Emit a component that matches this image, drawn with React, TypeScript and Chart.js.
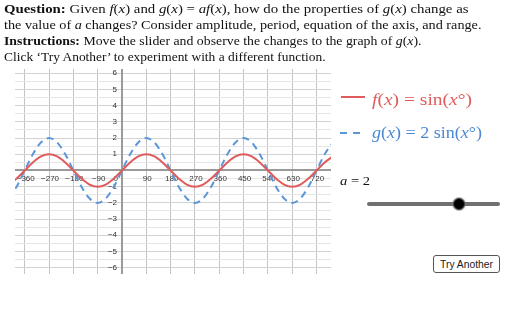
import React, { useEffect, useRef } from "react";
import { Chart, registerables } from "chart.js";

Chart.register(...registerables);

// ---- data ----
const X_TICKS = [-360, -270, -180, -90, 0, 90, 180, 270, 360, 450, 540, 630, 720];
const Y_TICKS = [6, 5, 4, 3, 2, 1, -1, -2, -3, -4, -5, -6];
const Y_GRID = [-6, -5.5, -5, -4.5, -4, -3.5, -3, -2.5, -2, -1.5, -1, -0.5, 0, 0.5, 1, 1.5, 2, 2.5, 3, 3.5, 4, 4.5, 5, 5.5, 6];
const X_SAMPLES = [
  -420, -390, -360, -330, -300, -270, -240, -210, -180, -150, -120, -90, -60, -30,
  0, 30, 60, 90, 120, 150, 180, 210, 240, 270, 300, 330, 360, 390, 420, 450, 480,
  510, 540, 570, 600, 630, 660, 690, 720, 750, 780,
];
const F_VALUES = [
  -0.87, -0.5, 0, 0.5, 0.87, 1, 0.87, 0.5, 0, -0.5, -0.87, -1, -0.87, -0.5,
  0, 0.5, 0.87, 1, 0.87, 0.5, 0, -0.5, -0.87, -1, -0.87, -0.5, 0, 0.5, 0.87, 1, 0.87,
  0.5, 0, -0.5, -0.87, -1, -0.87, -0.5, 0, 0.5, 0.87,
];
const G_VALUES = [
  -1.73, -1, 0, 1, 1.73, 2, 1.73, 1, 0, -1, -1.73, -2, -1.73, -1,
  0, 1, 1.73, 2, 1.73, 1, 0, -1, -1.73, -2, -1.73, -1, 0, 1, 1.73, 2, 1.73,
  1, 0, -1, -1.73, -2, -1.73, -1, 0, 1, 1.73,
];
const A_VALUE = 2;

const RED = "#e05c5c";
const BLUE = "#5b97d8";
const AXIS_COLOR = "#9a9a9a";

const fmt = (v: number) => (v < 0 ? "\u2212" + Math.abs(v) : String(v));

function Fit(props: { w: number; style: React.CSSProperties; children: React.ReactNode }) {
  return (
    <div
      data-fit={props.w}
      style={{ position: "absolute", whiteSpace: "nowrap", transformOrigin: "0 0", ...props.style }}
    >
      {props.children}
    </div>
  );
}

export default function App() {
  const canvasRef = useRef<HTMLCanvasElement>(null);
  const rootRef = useRef<HTMLDivElement>(null);

  useEffect(() => {
    document.body.style.margin = "0";
    const fit = () => {
      const root = rootRef.current;
      if (!root) return;
      root.querySelectorAll<HTMLElement>("[data-fit]").forEach((el) => {
        el.style.transform = "none";
        const w = el.getBoundingClientRect().width;
        const target = parseFloat(el.dataset.fit || "0");
        if (w > 0 && target > 0) el.style.transform = `scaleX(${target / w})`;
      });
    };
    fit();
    if ((document as any).fonts?.ready) (document as any).fonts.ready.then(fit);

    const overlay = {
      id: "ggbOverlay",
      beforeDatasetsDraw(chart: any) {
        const { ctx, chartArea: a } = chart;
        const x = chart.scales.x;
        const y = chart.scales.y;
        const ox = Math.round(x.getPixelForValue(0));
        const oy = Math.round(y.getPixelForValue(0));
        ctx.save();
        ctx.strokeStyle = AXIS_COLOR;
        ctx.lineWidth = 2;
        ctx.beginPath();
        ctx.moveTo(a.left, oy);
        ctx.lineTo(a.right, oy);
        ctx.moveTo(ox, a.top);
        ctx.lineTo(ox, a.bottom);
        ctx.stroke();
        ctx.fillStyle = "#333";
        ctx.font = '8px "Liberation Sans", Arial, sans-serif';
        ctx.textBaseline = "middle";
        ctx.textAlign = "center";
        X_TICKS.forEach((v) => {
          if (v === 0) return;
          ctx.fillText(fmt(v), x.getPixelForValue(v) + 1, oy + 9);
        });
        ctx.textAlign = "right";
        ctx.fillText("0", ox - 4, oy + 9);
        Y_TICKS.forEach((v) => ctx.fillText(fmt(v), ox - 5, y.getPixelForValue(v)));
        ctx.restore();
      },
      afterDraw(chart: any) {
        const { ctx } = chart;
        ctx.save();
        ctx.lineWidth = 2;
        ctx.strokeStyle = RED;
        ctx.beginPath();
        ctx.moveTo(341, 97);
        ctx.lineTo(365, 97);
        ctx.stroke();
        ctx.strokeStyle = BLUE;
        ctx.setLineDash([7, 6]);
        ctx.beginPath();
        ctx.moveTo(340, 133);
        ctx.lineTo(362, 133);
        ctx.stroke();
        ctx.restore();
      },
    };

    const chart = new Chart(canvasRef.current!, {
      type: "line",
      data: {
        datasets: [
          {
            label: "f(x) = sin(x°)",
            data: X_SAMPLES.map((xv, i) => ({ x: xv, y: F_VALUES[i] })),
            borderColor: RED,
            borderWidth: 2,
            pointRadius: 0,
            cubicInterpolationMode: "monotone",
            clip: 0,
          },
          {
            label: "g(x) = 2 sin(x°)",
            data: X_SAMPLES.map((xv, i) => ({ x: xv, y: G_VALUES[i] })),
            borderColor: BLUE,
            borderWidth: 2,
            borderDash: [7, 5],
            pointRadius: 0,
            cubicInterpolationMode: "monotone",
            clip: 0,
          },
        ],
      },
      options: {
        animation: false,
        responsive: false,
        events: [],
        layout: { padding: { left: 15, top: 69, right: 181, bottom: 39 } },
        plugins: { legend: { display: false }, tooltip: { enabled: false } },
        scales: {
          x: {
            type: "linear",
            min: -396,
            max: 773.5,
            afterBuildTicks: (s: any) => {
              s.ticks = X_TICKS.map((v) => ({ value: v }));
            },
            ticks: { display: false },
            border: { display: false },
            grid: {
              drawTicks: false,
              color: (c: any) => (c.tick && c.tick.value === 0 ? "rgba(0,0,0,0)" : "#c4c4c4"),
            },
          },
          y: {
            type: "linear",
            min: -6.39,
            max: 6.265,
            afterBuildTicks: (s: any) => {
              s.ticks = Y_GRID.map((v) => ({ value: v }));
            },
            ticks: { display: false },
            border: { display: false },
            grid: {
              drawTicks: false,
              color: (c: any) => {
                const v = c.tick ? c.tick.value : 1;
                if (v === 0) return "rgba(0,0,0,0)";
                return Math.abs(v % 1) < 1e-9 ? "#d2d2d2" : "#e6e6e6";
              },
            },
          },
        },
      },
      plugins: [overlay],
    } as any);

    return () => chart.destroy();
  }, []);

  const serif = '"Liberation Serif", "Times New Roman", serif';

  return (
    <div
      ref={rootRef}
      style={{
        position: "fixed",
        left: 0,
        top: 0,
        width: 512,
        height: 313,
        background: "#fff",
        overflow: "hidden",
        fontFamily: serif,
        color: "#111",
      }}
    >
      <canvas ref={canvasRef} width={512} height={313} style={{ position: "absolute", left: 0, top: 0, width: 512, height: 313 }} />

      <Fit w={464.5} style={{ left: 3.5, top: 1.7, fontSize: 13, lineHeight: "13px" }}>
        <b>Question:</b> Given <i>f</i>(<i>x</i>) and <i>g</i>(<i>x</i>) = <i>af</i>(<i>x</i>), how do the properties of <i>g</i>(<i>x</i>) change as
      </Fit>
      <Fit w={477.5} style={{ left: 3.5, top: 17.8, fontSize: 13, lineHeight: "13px" }}>
        the value of <i>a</i> changes? Consider amplitude, period, equation of the axis, and range.
      </Fit>
      <Fit w={417.5} style={{ left: 3.5, top: 33.9, fontSize: 13, lineHeight: "13px" }}>
        <b>Instructions:</b> Move the slider and observe the changes to the graph of <i>g</i>(<i>x</i>).
      </Fit>
      <Fit w={321.5} style={{ left: 3.5, top: 50, fontSize: 13, lineHeight: "13px" }}>
        Click ‘Try Another’ to experiment with a different function.
      </Fit>

      <Fit w={100} style={{ left: 372, top: 90.8, fontSize: 17, lineHeight: "17px", color: RED }}>
        <i>f</i>(<i>x</i>) = sin(<i>x</i>°)
      </Fit>
      <Fit w={110} style={{ left: 372, top: 123.6, fontSize: 17, lineHeight: "17px", color: "#4a88d2" }}>
        <i>g</i>(<i>x</i>) = 2 sin(<i>x</i>°)
      </Fit>

      <Fit w={30} style={{ left: 340, top: 174, fontSize: 13, lineHeight: "13px", color: "#111" }}>
        <i>a</i> = {A_VALUE}
      </Fit>

      <div
        style={{
          position: "absolute",
          left: 367,
          top: 202,
          width: 133,
          height: 4,
          borderRadius: 2,
          background: "#707070",
        }}
      />
      <div
        style={{
          position: "absolute",
          left: 459 - 6,
          top: 204 - 6,
          width: 12,
          height: 12,
          borderRadius: "50%",
          background: "#000",
          boxSizing: "border-box",
          border: "1px solid #444",
          boxShadow: "0 0 0 1px rgba(120,120,120,0.5)",
        }}
      />

      <div
        style={{
          position: "absolute",
          left: 433,
          top: 255,
          width: 67,
          height: 18,
          boxSizing: "border-box",
          border: "1px solid #555",
          borderRadius: 3,
          background: "#fff",
          display: "flex",
          alignItems: "center",
          justifyContent: "center",
          fontFamily: '"Liberation Sans", Arial, sans-serif',
          fontSize: 10.3,
          color: "#1a1a1a",
        }}
      >
        Try Another
      </div>
    </div>
  );
}
